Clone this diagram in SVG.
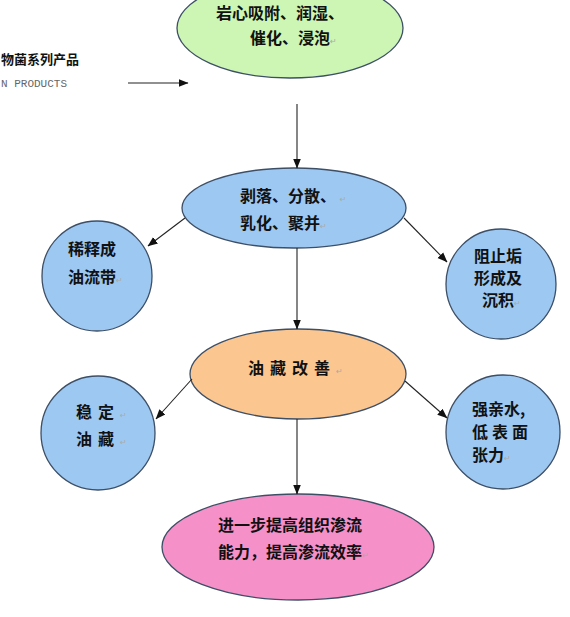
<svg xmlns="http://www.w3.org/2000/svg" width="570" height="617" viewBox="0 0 570 617">
<style>
.node{stroke:#3d4f66;stroke-width:1.3}
.t{font-family:"Noto Sans CJK SC","Noto Sans CJK JP",sans-serif;font-weight:bold;font-size:16px;fill:#111}
.pm{font-family:"DejaVu Sans",sans-serif;font-size:8px;fill:#aaa;font-weight:normal}
.c{stroke:#222;stroke-width:1.1;fill:none}
</style>
<defs>
<marker id="ah" viewBox="0 0 10 10" refX="9.5" refY="5" markerWidth="10" markerHeight="10" orient="auto" markerUnits="userSpaceOnUse">
<path d="M0,1 L10,5 L0,9 Z" fill="#111"/>
</marker>
</defs>
<rect width="570" height="617" fill="#fff"/>
<g id="header">
<text x="1" y="64" style="font-family:'Noto Sans CJK SC',sans-serif;font-weight:bold;font-size:13px;fill:#111">物菌系列产品</text>
<text x="1" y="87" style="font-family:'Liberation Mono',monospace;font-size:11px;fill:#666">N PRODUCTS</text>
</g>
<g id="n1">
<ellipse class="node" cx="290" cy="28" rx="113" ry="50" fill="#cdf5b4"/>
<text class="t" x="216" y="19">岩心吸附、润湿、</text>
<text class="t" x="250" y="44">催化、浸泡<tspan class="pm">↵</tspan></text>
</g>
<g id="n2">
<ellipse class="node" cx="294" cy="208" rx="112" ry="40" fill="#9dc8f2"/>
<text class="t" x="240" y="202">剥落、分散、 <tspan class="pm">↵</tspan></text>
<text class="t" x="240" y="229">乳化、聚并<tspan class="pm">↵</tspan></text>
</g>
<g id="n3">
<circle class="node" cx="97" cy="276" r="55" fill="#9dc8f2"/>
<text class="t" x="68" y="255">稀释成</text>
<text class="t" x="68" y="283">油流带<tspan class="pm">↵</tspan></text>
</g>
<g id="n4">
<circle class="node" cx="501" cy="284" r="55" fill="#9dc8f2"/>
<text class="t" x="474" y="262">阻止垢</text>
<text class="t" x="474" y="284">形成及</text>
<text class="t" x="482" y="306">沉积<tspan class="pm">↵</tspan></text>
</g>
<g id="n5">
<ellipse class="node" cx="298" cy="374" rx="108" ry="45" fill="#fbc690"/>
<text class="t" x="248" y="374" letter-spacing="6">油藏改善<tspan class="pm" letter-spacing="0">↵</tspan></text>
</g>
<g id="n6">
<circle class="node" cx="98" cy="433" r="57" fill="#9dc8f2"/>
<text class="t" x="76" y="418" letter-spacing="6">稳定<tspan class="pm" letter-spacing="0">↵</tspan></text>
<text class="t" x="76" y="445" letter-spacing="6">油藏<tspan class="pm" letter-spacing="0">↵</tspan></text>
</g>
<g id="n7">
<circle class="node" cx="503" cy="432" r="57" fill="#9dc8f2"/>
<text class="t" x="472" y="415">强亲水,</text>
<text class="t" x="472" y="438" letter-spacing="4">低表面</text>
<text class="t" x="472" y="461">张力<tspan class="pm">↵</tspan></text>
</g>
<g id="n8">
<ellipse class="node" cx="298" cy="547" rx="136" ry="53" fill="#f590c8"/>
<text class="t" x="218" y="531">进一步提高组织渗流</text>
<text class="t" x="218" y="558">能力，提高渗流效率<tspan class="pm">↵</tspan></text>
</g>
<g id="connectors">
<line class="c" x1="128" y1="83" x2="188" y2="83" marker-end="url(#ah)"/>
<line class="c" x1="297" y1="104" x2="297" y2="168" marker-end="url(#ah)"/>
<line class="c" x1="185" y1="218" x2="148" y2="246" marker-end="url(#ah)"/>
<line class="c" x1="404" y1="218" x2="447" y2="262" marker-end="url(#ah)"/>
<line class="c" x1="297" y1="248" x2="297" y2="329" marker-end="url(#ah)"/>
<line class="c" x1="192" y1="379" x2="156" y2="419" marker-end="url(#ah)"/>
<line class="c" x1="405" y1="381" x2="447" y2="418" marker-end="url(#ah)"/>
<line class="c" x1="297" y1="419" x2="297" y2="494" marker-end="url(#ah)"/>
</g>
</svg>
